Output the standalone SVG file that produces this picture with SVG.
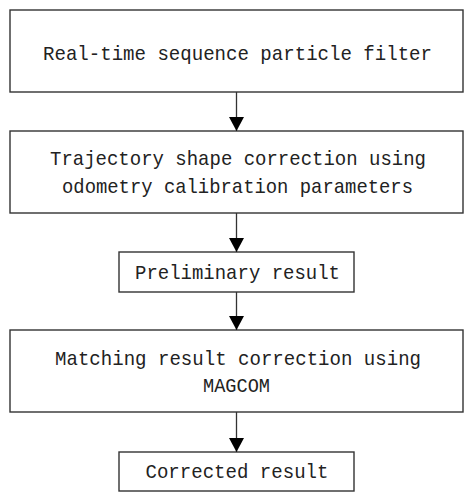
<svg xmlns="http://www.w3.org/2000/svg" width="474" height="500" viewBox="0 0 474 500">
<defs>
<style>
.box{fill:#fff;stroke:#333;stroke-width:1.4}
.t{font-family:"Liberation Mono","DejaVu Sans Mono",monospace;font-size:21px;fill:#222;text-anchor:middle}
.c{stroke:#333;stroke-width:1.3;fill:none}
</style>
<marker id="ah" viewBox="0 0 14 15" refX="14" refY="7.5" markerWidth="14" markerHeight="15" markerUnits="userSpaceOnUse" orient="auto">
<path d="M0,0 L14,7.5 L0,15 Z" fill="#000"/>
</marker>
</defs>
<rect width="474" height="500" fill="#fff"/>
<g id="n1"><rect class="box" x="10" y="10" width="453" height="82"/><text class="t" x="237.5" y="60" textLength="389" lengthAdjust="spacingAndGlyphs">Real-time sequence particle filter</text></g>
<g id="n2"><rect class="box" x="10" y="131" width="453" height="82"/><text class="t" x="238" y="165" textLength="376" lengthAdjust="spacingAndGlyphs">Trajectory shape correction using</text><text class="t" x="237.5" y="193" textLength="351" lengthAdjust="spacingAndGlyphs">odometry calibration parameters</text></g>
<g id="n3"><rect class="box" x="119" y="252" width="235" height="40"/><text class="t" x="237.5" y="279" textLength="205" lengthAdjust="spacingAndGlyphs">Preliminary result</text></g>
<g id="n4"><rect class="box" x="10" y="330" width="453" height="82"/><text class="t" x="238" y="365" textLength="366" lengthAdjust="spacingAndGlyphs">Matching result correction using</text><text class="t" x="236.5" y="392" textLength="67" lengthAdjust="spacingAndGlyphs">MAGCOM</text></g>
<g id="n5"><rect class="box" x="119" y="452" width="235" height="39"/><text class="t" x="237" y="478" textLength="183" lengthAdjust="spacingAndGlyphs">Corrected result</text></g>
<g id="connectors">
<line class="c" x1="236.5" y1="92" x2="236.5" y2="131" marker-end="url(#ah)"/>
<line class="c" x1="236.5" y1="213" x2="236.5" y2="252" marker-end="url(#ah)"/>
<line class="c" x1="236.5" y1="292" x2="236.5" y2="330" marker-end="url(#ah)"/>
<line class="c" x1="236.5" y1="412" x2="236.5" y2="452" marker-end="url(#ah)"/>
</g>
</svg>
